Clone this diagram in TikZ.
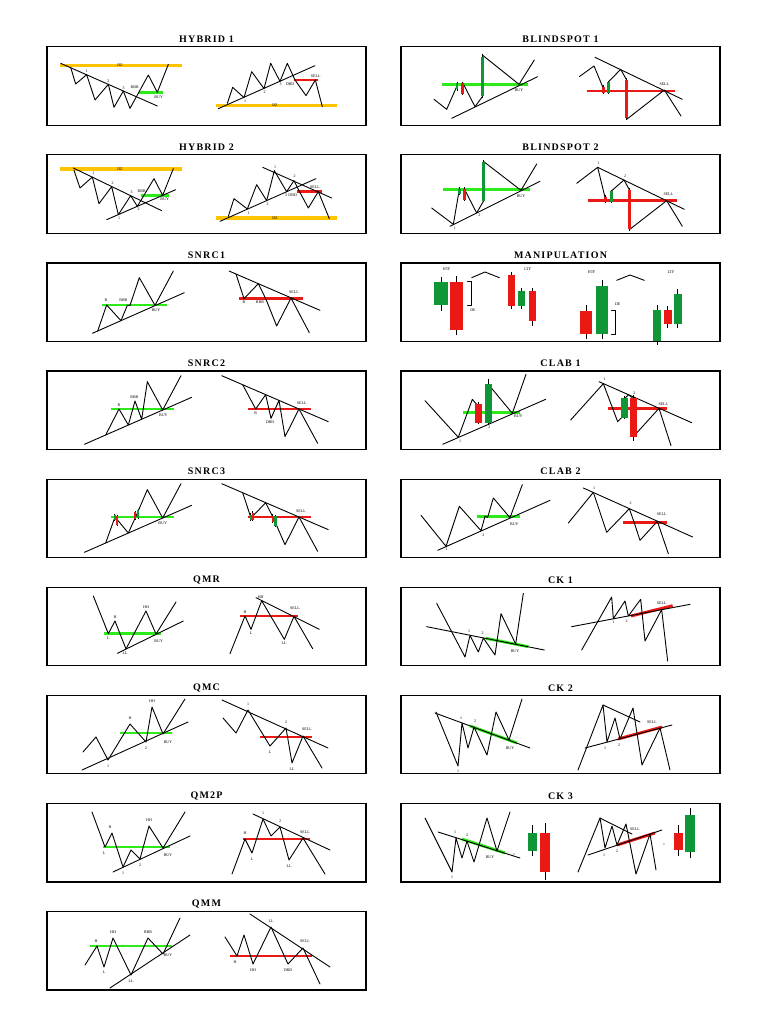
\documentclass[tikz,border=0pt]{standalone}
\usepackage{fontspec}
\setmainfont{Liberation Serif}
\newfontfamily\ttlfont[LetterSpace=12]{Liberation Serif}
\definecolor{lg}{RGB}{45,235,25}
\definecolor{cg}{RGB}{15,150,55}
\definecolor{rd}{RGB}{235,25,20}
\definecolor{dzc}{RGB}{255,196,0}
\newcommand\cdl[7]{\draw[wk] (#1,#2) -- (#1,#5); \fill[#7] ({#1-#6},#3) rectangle ({#1+#6},#4);}
\begin{document}
\begin{tikzpicture}[x=1pt,y=-1pt,
 bx/.style={draw=black,line width=1.2pt},
 ln/.style={draw=black,line width=0.9pt,line join=round,line cap=round},
 wk/.style={draw=black,line width=0.7pt},
 gl/.style={draw=lg,line width=2.9pt},
 rl/.style={draw=rd,line width=2.9pt},
 dzl/.style={draw=dzc,line width=3.4pt},
 lb/.style={font=\fontsize{4}{4}\selectfont,inner sep=0pt,text=black},
 ttl/.style={font=\ttlfont\bfseries\fontsize{10}{10}\selectfont,inner sep=0pt},
 PL/.style={shift={(40,#1)},scale=0.33333},
 PR/.style={shift={(395,#1)},scale=0.33333}]
\fill[white] (0,0) rectangle (768,1024);
\useasboundingbox (0,0) rectangle (768,1024);

% titles
\node[ttl] (t1) at (206.5,39.3) {HYBRID 1};
\node[ttl] (t2) at (560.5,39.3) {BLINDSPOT 1};
\node[ttl] (t3) at (206.5,147.4) {HYBRID 2};
\node[ttl] (t4) at (560.5,147.4) {BLINDSPOT 2};
\node[ttl] (t5) at (206.5,255.5) {SNRC1};
\node[ttl] (t6) at (560.5,255.5) {MANIPULATION};
\node[ttl] (t7) at (206.5,363.6) {SNRC2};
\node[ttl] (t8) at (560.5,363.6) {CLAB 1};
\node[ttl] (t9) at (206.5,471.7) {SNRC3};
\node[ttl] (t10) at (560.5,471.7) {CLAB 2};
\node[ttl] (t11) at (206.5,579.8) {QMR};
\node[ttl] (t12) at (560.5,579.8) {CK 1};
\node[ttl] (t13) at (206.5,687.9) {QMC};
\node[ttl] (t14) at (560.5,687.9) {CK 2};
\node[ttl] (t15) at (206.5,796) {QM2P};
\node[ttl] (t16) at (560.5,796) {CK 3};
\node[ttl] (t17) at (206.5,904.1) {QMM};

% boxes
\foreach \t in {46.7,154.8,262.9,371,479.1,587.2,695.3,803.4,911.5}{\draw[bx] (47,\t) rectangle (366,\t+78.5);}
\foreach \t in {46.7,154.8,262.9,371,479.1,587.2,695.3,803.4}{\draw[bx] (401,\t) rectangle (720,\t+78.5);}

% ---------- HYBRID 1 ----------
\begin{scope}[PL=30]
\draw[dzl] (60,107) -- (425,107);
\node[lb] (h1dz) at (240,106) {DZ};
\draw[gl] (298,187) -- (368,187);
\draw[ln] (62,100) -- (352,228);
\draw[ln] (92,112)--(107,162)--(140,134)--(165,210)--(205,163)--(222,232)--(250,183)--(270,235)--(325,135)--(352,187)--(385,103);
\node[lb] (h1a) at (140,124) {1};
\node[lb] (h1b) at (205,153) {2};
\node[lb] (h1c) at (251,174) {3};
\node[lb] (h1d) at (284,173) {RBR};
\node[lb] (h1e) at (356,201) {BUY};
\draw[dzl] (527,227) -- (890,227);
\node[lb] (h1dz2) at (705,227) {DZ};
\draw[rl] (763,150) -- (835,150);
\draw[ln] (535,236) -- (825,107);
\draw[ln] (562,220)--(578,172)--(612,203)--(635,125)--(672,176)--(692,100)--(720,154)--(742,100)--(765,150)--(798,197)--(826,150)--(847,230);
\node[lb] (h1f) at (615,214) {1};
\node[lb] (h1g) at (674,188) {2};
\node[lb] (h1h) at (722,163) {3};
\node[lb] (h1i) at (750,162) {DBD};
\node[lb] (h1j) at (827,138) {SELL};
\end{scope}

% ---------- BLINDSPOT 1 ----------
\begin{scope}[PR=30]
\draw[gl] (140,163) -- (400,163);
\draw[ln] (170,265) -- (428,140);
\draw[ln] (117,208)--(155,238)--(185,170);
\draw[ln] (203,158)--(240,230)--(262,200);
\draw[ln] (262,75)--(372,163)--(418,90);
\cdl{186}{155}{160}{178}{182}{4}{cg}
\cdl{203}{155}{160}{192}{195}{5}{rd}
\cdl{262}{72}{80}{198}{205}{5}{cg}
\node[lb] (b1a) at (372,182) {BUY};
\draw[rl] (575,183) -- (840,183);
\draw[ln] (600,82) -- (862,208);
\draw[ln] (553,140)--(597,108)--(625,175);
\draw[ln] (641,155)--(677,118)--(695,150);
\draw[ln] (695,268)--(808,180)--(858,258);
\cdl{625}{165}{172}{190}{193}{4}{rd}
\cdl{641}{152}{155}{188}{192}{4.5}{cg}
\cdl{695}{145}{150}{265}{270}{5}{rd}
\node[lb] (b1b) at (808,162) {SELL};
\end{scope}

% ---------- HYBRID 2 ----------
\begin{scope}[PL=138]
\draw[dzl] (60,93) -- (425,93);
\node[lb] (h2dz) at (240,93) {DZ};
\draw[gl] (302,173) -- (387,173);
\draw[ln] (100,90) -- (365,218);
\draw[ln] (200,245) -- (407,155);
\draw[ln] (102,97)--(120,150)--(157,117)--(177,197)--(215,146)--(235,230)--(272,173)--(292,205)--(342,122)--(368,172)--(400,92);
\node[lb] (h2a) at (160,106) {1};
\node[lb] (h2b) at (218,135) {2};
\node[lb] (h2c) at (275,163) {3};
\node[lb] (h2d) at (237,240) {1};
\node[lb] (h2e) at (296,215) {2};
\node[lb] (h2f) at (305,160) {RBR};
\node[lb] (h2g) at (374,185) {BUY};
\draw[dzl] (527,240) -- (890,240);
\node[lb] (h2dz2) at (705,240) {DZ};
\draw[rl] (772,160) -- (845,160);
\draw[ln] (540,250) -- (828,122);
\draw[ln] (668,88) -- (875,180);
\draw[ln] (565,235)--(582,182)--(622,213)--(650,140)--(680,188)--(703,98)--(740,161)--(762,128)--(778,160)--(805,210)--(835,161)--(868,242);
\node[lb] (h2h) at (626,226) {1};
\node[lb] (h2i) at (683,199) {2};
\node[lb] (h2j) at (738,172) {3};
\node[lb] (h2k) at (705,88) {1};
\node[lb] (h2l) at (764,116) {2};
\node[lb] (h2m) at (758,173) {DBD};
\node[lb] (h2n) at (825,148) {SELL};
\end{scope}

% ---------- BLINDSPOT 2 ----------
\begin{scope}[PR=138]
\draw[gl] (145,155) -- (405,155);
\draw[ln] (165,265) -- (435,130);
\draw[ln] (110,210)--(175,259)--(192,160);
\draw[ln] (208,153)--(245,225)--(265,190);
\draw[ln] (265,70)--(378,157)--(425,78);
\cdl{194}{148}{152}{168}{171}{4}{cg}
\cdl{208}{148}{152}{185}{188}{5}{rd}
\cdl{265}{66}{72}{188}{192}{5}{cg}
\node[lb] (b2a) at (178,270) {1};
\node[lb] (b2b) at (253,232) {2};
\node[lb] (b2c) at (378,175) {BUY};
\draw[rl] (580,188) -- (845,188);
\draw[ln] (608,88) -- (868,214);
\draw[ln] (545,136)--(608,88)--(630,178);
\draw[ln] (648,160)--(687,126)--(703,155);
\draw[ln] (703,275)--(815,188)--(862,265);
\cdl{632}{172}{178}{192}{196}{4}{rd}
\cdl{648}{156}{160}{192}{196}{4.5}{cg}
\cdl{703}{150}{155}{272}{278}{5}{rd}
\node[lb] (b2d) at (610,75) {1};
\node[lb] (b2e) at (690,114) {2};
\node[lb] (b2f) at (820,170) {SELL};
\end{scope}

% ---------- SNRC1 ----------
\begin{scope}[PL=246]
\draw[gl] (185,177) -- (380,177);
\draw[ln] (157,262) -- (433,140);
\draw[ln] (173,255)--(200,177)--(243,224)--(262,178)--(270,178)--(298,95)--(345,178)--(400,75);
\node[lb] (s1a) at (198,164) {R};
\node[lb] (s1b) at (250,164) {RBR};
\node[lb] (s1c) at (348,192) {BUY};
\draw[rl] (598,158) -- (788,158);
\draw[ln] (567,75) -- (840,193);
\draw[ln] (588,84)--(612,158)--(655,113)--(678,160)--(710,240)--(753,156)--(808,260);
\node[lb] (s1d) at (612,170) {R};
\node[lb] (s1e) at (660,170) {RBR};
\node[lb] (s1f) at (762,140) {SELL};
\end{scope}

% ---------- MANIPULATION ----------
\begin{scope}[PR=246]
\cdl{138}{92}{107}{177}{195}{20}{cg}
\cdl{185}{90}{107}{252}{268}{19}{rd}
\draw[ln] (218,105)--(230,105)--(230,177)--(218,177);
\node[lb] (m1) at (155,70) {HTF};
\node[lb] (m2) at (234,192) {DE};
\draw[ln] (230,95)--(270,78)--(313,95);
\cdl{349}{77}{88}{180}{190}{11}{rd}
\cdl{379}{125}{135}{180}{190}{11}{cg}
\cdl{412}{125}{135}{225}{240}{11.5}{rd}
\node[lb] (m3) at (398,70) {LTF};
\cdl{573}{178}{195}{263}{280}{18.5}{rd}
\cdl{621}{103}{120}{263}{280}{19}{cg}
\draw[ln] (650,193)--(662,193)--(662,265)--(650,265);
\node[lb] (m4) at (590,78) {HTF};
\node[lb] (m5) at (668,175) {DE};
\draw[ln] (665,103)--(705,87)--(748,103);
\cdl{786}{178}{192}{285}{298}{11}{cg}
\cdl{818}{180}{192}{235}{245}{11.5}{rd}
\cdl{848}{130}{145}{235}{245}{11.5}{cg}
\node[lb] (m6) at (828,78) {LTF};
\end{scope}

% ---------- SNRC2 ----------
\begin{scope}[PL=355]
\draw[gl] (213,162) -- (402,162);
\draw[ln] (133,268) -- (455,127);
\draw[ln] (197,240)--(237,162)--(265,210)--(285,138)--(305,193)--(322,80)--(368,165)--(423,62);
\node[lb] (s2a) at (237,152) {R};
\node[lb] (s2b) at (283,127) {RBR};
\node[lb] (s2c) at (370,180) {BUY};
\draw[rl] (625,162) -- (813,162);
\draw[ln] (545,62) -- (865,200);
\draw[ln] (608,89)--(647,162)--(677,119)--(693,190)--(717,136)--(735,245)--(777,162)--(833,265);
\node[lb] (s2d) at (647,175) {R};
\node[lb] (s2e) at (690,201) {DBD};
\node[lb] (s2f) at (785,145) {SELL};
\end{scope}

% ---------- CLAB 1 ----------
\begin{scope}[PR=355]
\draw[gl] (205,172) -- (375,172);
\draw[ln] (143,268) -- (452,133);
\draw[ln] (90,137)--(190,247)--(232,133)--(245,148);
\draw[ln] (280,88)--(352,175)--(393,58);
\cdl{250}{140}{148}{203}{208}{11}{rd}
\cdl{280}{72}{88}{203}{210}{10}{cg}
\node[lb] (c1a) at (195,258) {1};
\node[lb] (c1b) at (283,218) {2};
\node[lb] (c1c) at (370,185) {BUY};
\draw[rl] (640,160) -- (815,160);
\draw[ln] (612,80) -- (890,203);
\draw[ln] (527,195)--(625,86)--(668,200)--(680,188);
\draw[ln] (690,130)--(700,119)--(712,128);
\draw[ln] (715,245)--(792,160)--(828,272);
\cdl{688}{122}{130}{188}{192}{10}{cg}
\cdl{715}{120}{128}{245}{258}{10.5}{rd}
\node[lb] (c1d) at (628,74) {1};
\node[lb] (c1e) at (718,116) {2};
\node[lb] (c1f) at (805,148) {SELL};
\end{scope}

% ---------- SNRC3 ----------
\begin{scope}[PL=463]
\draw[gl] (213,162) -- (402,162);
\draw[ln] (133,268) -- (455,127);
\draw[ln] (197,240)--(225,162)--(265,210)--(290,155)--(322,80)--(368,165)--(423,62);
\cdl{224}{152}{156}{170}{174}{3}{cg}
\cdl{231}{155}{160}{185}{188}{3}{rd}
\cdl{285}{144}{148}{168}{171}{3}{rd}
\cdl{295}{137}{140}{165}{168}{3}{cg}
\node[lb] (s3a) at (368,182) {BUY};
\draw[rl] (625,162) -- (813,162);
\draw[ln] (545,62) -- (865,200);
\draw[ln] (608,89)--(633,165)--(677,119)--(700,165)--(735,245)--(777,162)--(833,265);
\cdl{632}{150}{155}{170}{173}{3}{cg}
\cdl{638}{145}{150}{172}{175}{3}{rd}
\cdl{698}{153}{158}{178}{181}{3}{rd}
\cdl{706}{155}{160}{188}{191}{3.5}{cg}
\node[lb] (s3b) at (783,145) {SELL};
\end{scope}

% ---------- CLAB 2 ----------
\begin{scope}[PR=463]
\draw[gl] (245,160) -- (375,160);
\draw[ln] (128,262) -- (465,112);
\draw[ln] (78,157)--(153,250)--(193,130)--(258,203)--(270,160)--(278,163)--(295,105)--(345,164)--(382,65);
\node[lb] (c2a) at (155,260) {1};
\node[lb] (c2b) at (265,218) {2};
\node[lb] (c2c) at (358,183) {BUY};
\draw[rl] (683,179) -- (815,179);
\draw[ln] (565,75) -- (893,222);
\draw[ln] (520,180)--(595,88)--(635,208)--(703,137)--(718,180)--(735,232)--(787,175)--(820,272);
\node[lb] (c2d) at (597,77) {1};
\node[lb] (c2e) at (707,120) {2};
\node[lb] (c2f) at (800,155) {SELL};
\end{scope}

% ---------- QMR ----------
\begin{scope}[PL=571]
\draw[gl] (192,188) -- (362,188);
\draw[ln] (232,247) -- (430,150);
\draw[ln] (160,75)--(205,188)--(225,150)--(258,234)--(318,120)--(348,189)--(408,93);
\node[lb] (qra) at (205,202) {L};
\node[lb] (qrb) at (225,140) {H};
\node[lb] (qrc) at (255,248) {LL};
\node[lb] (qrd) at (318,110) {HH};
\node[lb] (qre) at (356,210) {BUY};
\draw[rl] (600,135) -- (775,135);
\draw[ln] (648,80) -- (838,175);
\draw[ln] (570,248)--(615,135)--(633,175)--(665,89)--(733,205)--(762,136)--(818,233);
\node[lb] (qrf) at (615,123) {H};
\node[lb] (qrg) at (633,186) {L};
\node[lb] (qrh) at (662,78) {HH};
\node[lb] (qri) at (732,216) {LL};
\node[lb] (qrj) at (765,112) {SELL};
\end{scope}

% ---------- CK 1 ----------
\begin{scope}[PR=571]
\draw[gl] (273,202) -- (400,227);
\draw[ln] (95,167) -- (448,237);
\draw[ln] (125,97)--(210,258)--(225,193)--(250,243)--(265,201)--(300,252)--(318,128)--(362,219)--(385,67);
\node[lb] (k1a) at (222,182) {1};
\node[lb] (k1b) at (263,188) {2};
\node[lb] (k1c) at (360,240) {BUY};
\draw[rl] (708,135) -- (833,104);
\draw[ln] (530,167) -- (885,100);
\draw[ln] (560,237)--(650,78)--(655,143)--(690,90)--(700,135)--(737,85)--(750,210)--(800,116)--(818,270);
\node[lb] (k1d) at (655,155) {1};
\node[lb] (k1e) at (695,152) {2};
\node[lb] (k1f) at (800,97) {SELL};
\end{scope}

% ---------- QMC ----------
\draw[gl] (120,733) -- (172,733);
\draw[ln] (82,770) -- (188,722);
\draw[ln] (83,752)--(96,737)--(108,760)--(130,724)--(146,742)--(152,707)--(163,734)--(185,699);
\node[lb] (qca) at (108,766) {1};
\node[lb] (qcb) at (146,748) {2};
\node[lb] (qcc) at (130,718) {H};
\node[lb] (qcd) at (152,701) {HH};
\node[lb] (qce) at (168,742) {BUY};
\draw[rl] (260,737) -- (312,737);
\draw[ln] (222,700) -- (328,748);
\draw[ln] (223,718)--(236,733)--(248,710)--(270,746)--(286,728)--(292,763)--(303,736)--(322,768);
\node[lb] (qcf) at (248,704) {1};
\node[lb] (qcg) at (286,722) {2};
\node[lb] (qch) at (270,752) {L};
\node[lb] (qci) at (292,769) {LL};
\node[lb] (qcj) at (307,729) {SELL};

% ---------- CK 2 ----------
\draw[gl] (470,726) -- (517,743);
\draw[ln] (435,713) -- (530,748);
\draw[ln] (436,712)--(458,766)--(462,723)--(468,748)--(474,727)--(487,755)--(496,712)--(509,740)--(522,699);
\node[lb] (k2a) at (458,771) {1};
\node[lb] (k2b) at (461,718) {1};
\node[lb] (k2c) at (475,721) {2};
\node[lb] (k2d) at (510,748) {BUY};
\draw[rl] (618,739) -- (662,727);
\draw[ln] (585,748) -- (672,725);
\draw[ln] (603,705) -- (640,722);
\draw[ln] (578,770)--(603,705)--(607,742)--(615,718)--(620,739)--(633,708)--(642,765)--(660,728)--(670,770);
\node[lb] (k2e) at (605,748) {1};
\node[lb] (k2f) at (619,745) {2};
\node[lb] (k2g) at (652,722) {SELL};

% ---------- QM2P ----------
\draw[gl] (103,847) -- (170,847);
\draw[ln] (113,872) -- (190,836);
\draw[ln] (92,812)--(105,847)--(112,833)--(123,867)--(131,850)--(140,859)--(149,826)--(163,848)--(185,812);
\node[lb] (q2a) at (104,853) {L};
\node[lb] (q2b) at (110,827) {H};
\node[lb] (q2c) at (123,873) {1};
\node[lb] (q2d) at (140,865) {2};
\node[lb] (q2e) at (149,820) {HH};
\node[lb] (q2f) at (168,855) {BUY};
\draw[rl] (243,839) -- (310,839);
\draw[ln] (253,814) -- (330,850);
\draw[ln] (232,874)--(245,839)--(252,853)--(263,819)--(271,836)--(280,827)--(289,860)--(303,838)--(325,874);
\node[lb] (q2g) at (245,833) {H};
\node[lb] (q2h) at (252,859) {L};
\node[lb] (q2i) at (263,813) {1};
\node[lb] (q2j) at (280,821) {2};
\node[lb] (q2k) at (289,866) {LL};
\node[lb] (q2l) at (305,832) {SELL};

% ---------- CK 3 ----------
\draw[gl] (462,839) -- (505,853);
\draw[ln] (438,832) -- (520,858);
\draw[ln] (425,818)--(452,872)--(456,838)--(462,858)--(467,841)--(474,862)--(487,818)--(497,851)--(510,812);
\node[lb] (k3a) at (452,877) {1};
\node[lb] (k3b) at (455,832) {1};
\node[lb] (k3c) at (467,835) {2};
\node[lb] (k3d) at (490,857) {BUY};
\node[lb] (k3e) at (514,855) {=};
\cdl{532}{825}{833}{851}{856}{4.5}{cg}
\cdl{545}{823}{833}{872}{880}{5}{rd}
\draw[rl] (617,845) -- (655,833);
\draw[ln] (588,855) -- (662,830);
\draw[ln] (600,818) -- (632,834);
\draw[ln] (578,872)--(600,818)--(605,848)--(612,826)--(617,845)--(626,824)--(636,874)--(650,834)--(656,870);
\node[lb] (k3f) at (604,855) {1};
\node[lb] (k3g) at (617,851) {2};
\node[lb] (k3h) at (635,829) {SELL};
\node[lb] (k3i) at (664,845) {=};
\cdl{678}{825}{833}{850}{856}{4.5}{rd}
\cdl{690}{808}{815}{852}{858}{5}{cg}

% ---------- QMM ----------
\draw[gl] (90,946) -- (172,946);
\draw[ln] (110,988) -- (190,935);
\draw[ln] (85,965)--(97,946)--(104,967)--(113,938)--(131,975)--(148,938)--(163,954)--(180,918);
\node[lb] (qma) at (96,941) {H};
\node[lb] (qmb) at (104,972) {L};
\node[lb] (qmc) at (113,932) {HH};
\node[lb] (qmd) at (131,981) {LL};
\node[lb] (qme) at (148,932) {RBR};
\node[lb] (qmf) at (168,955) {BUY};
\draw[rl] (230,956) -- (312,956);
\draw[ln] (250,914) -- (330,967);
\draw[ln] (225,937)--(237,956)--(244,935)--(253,964)--(271,927)--(288,964)--(303,948)--(320,984);
\node[lb] (qmg) at (235,962) {H};
\node[lb] (qmh) at (253,970) {HH};
\node[lb] (qmi) at (271,921) {LL};
\node[lb] (qmj) at (288,970) {DBD};
\node[lb] (qmk) at (305,941) {SELL};
\end{tikzpicture}
\end{document}
